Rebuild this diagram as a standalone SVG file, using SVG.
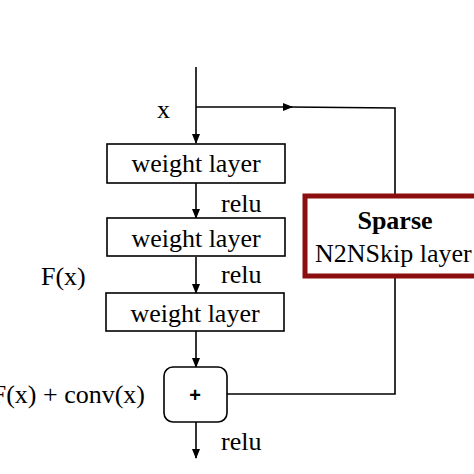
<svg xmlns="http://www.w3.org/2000/svg" width="474" height="474" viewBox="0 0 474 474">
<style>
.box{fill:#fff;stroke:#000;stroke-width:1.6}
.t{font-family:"Liberation Serif",serif;font-size:26px;fill:#000}
.ln{fill:none;stroke:#000;stroke-width:1.6}
</style>
<defs>
<marker id="ah" markerWidth="10" markerHeight="10" refX="9" refY="5" orient="auto" markerUnits="userSpaceOnUse">
<path d="M0,1 L10,5 L0,9 Z" fill="#000"/>
</marker>
</defs>
<rect width="474" height="474" fill="#fff"/>
<g id="connectors">
<path class="ln" d="M196,67 V143" marker-end="url(#ah)"/>
<path class="ln" d="M196,107 H292" marker-end="url(#ah)"/>
<path class="ln" d="M290,107 L395,108 V194"/>
<path class="ln" d="M196,183 V218" marker-end="url(#ah)"/>
<path class="ln" d="M196,257 V293" marker-end="url(#ah)"/>
<path class="ln" d="M196,331 V367" marker-end="url(#ah)"/>
<path class="ln" d="M395,277 V394 H227"/>
<path class="ln" d="M196,422 V458" marker-end="url(#ah)"/>
</g>
<g id="labels">
<text class="t" x="157" y="118">x</text>
<text class="t" x="221" y="212">relu</text>
<text class="t" x="221" y="283">relu</text>
<text class="t" x="221" y="450">relu</text>
<text class="t" x="41" y="285">F(x)</text>
<text class="t" x="145" y="403" text-anchor="end">F(x) + conv(x)</text>
</g>
<g id="w1">
<rect class="box" x="107" y="144" width="178" height="39"/>
<text class="t" x="196" y="172" text-anchor="middle">weight layer</text>
</g>
<g id="w2">
<rect class="box" x="107" y="218" width="178" height="38"/>
<text class="t" x="196" y="247" text-anchor="middle">weight layer</text>
</g>
<g id="w3">
<rect class="box" x="106" y="293" width="178" height="38"/>
<text class="t" x="195" y="322" text-anchor="middle">weight layer</text>
</g>
<g id="sparse">
<rect x="305" y="196" width="180" height="80" fill="#fff" stroke="#8b0f0f" stroke-width="5"/>
<text class="t" x="395" y="229" text-anchor="middle" font-weight="bold">Sparse</text>
<text class="t" x="315" y="262">N2NSkip layer</text>
</g>
<g id="plus">
<rect class="box" x="164" y="367" width="63" height="55" rx="9"/>
<text x="195" y="402" text-anchor="middle" font-family="Liberation Sans,sans-serif" font-weight="bold" font-size="20">+</text>
</g>
</svg>
